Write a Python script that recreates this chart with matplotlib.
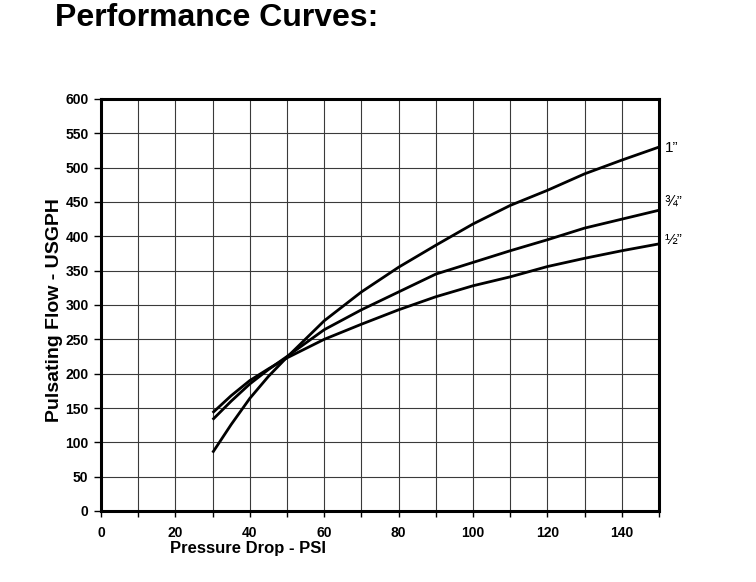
import matplotlib.pyplot as plt
import numpy as np

plt.rcParams["font.family"] = ["Liberation Sans", "DejaVu Sans"]

# ==========================================================
# Data
# ==========================================================

pressure = [30, 35, 40, 45, 50, 60, 70, 80, 90, 100, 110, 120, 130, 140, 150]

flow_1in = [85, 126, 164, 196, 224, 277, 319, 355, 387, 418, 445, 467, 491, 511, 530]
flow_3q = [133, 160, 185, 206, 225, 264, 293, 319, 345, 362, 379, 395, 412, 425, 438]
flow_half = [143, 168, 190, 207, 223, 250, 272, 293, 312, 328, 341, 356, 368, 379, 389]

curve_labels = ["1\u201d", "\u00be\u201d", "\u00bd\u201d"]
label_y = [529, 449, 395]

x_ticks = np.arange(0, 151, 10)
x_tick_labels = [str(v) if v % 20 == 0 and v < 150 else "" for v in x_ticks]
y_ticks = np.arange(0, 601, 50)


# ==========================================================
# Plot
# ==========================================================

fig = plt.figure(figsize=(7.56, 5.82), dpi=100)

ax = fig.add_axes([101 / 756, 1 - 511 / 582, 558 / 756, 412 / 582])

for flow in [flow_1in, flow_3q, flow_half]:

    ax.plot(
        pressure,
        flow,
        color="black",
        linewidth=2.0,
        solid_capstyle="butt"
    )

for label, y in zip(curve_labels, label_y):

    ax.text(
        151.5,
        y,
        label,
        fontsize=11,
        ha="left",
        va="center",
        clip_on=False
    )

ax.set_xlim(0, 150)
ax.set_ylim(0, 600)

ax.set_xticks(x_ticks)
ax.set_xticklabels(x_tick_labels, fontsize=10, fontweight="bold")
ax.set_yticks(y_ticks)
ax.set_yticklabels([str(v) for v in y_ticks], fontsize=10, fontweight="bold")

ax.tick_params(axis="x", length=4, width=1, pad=7)
ax.tick_params(axis="y", length=5, width=1, pad=4)

ax.grid(True, color="#3a3a3a", linewidth=0.8)
ax.set_axisbelow(True)

for spine in ax.spines.values():
    spine.set_linewidth(2.2)

fig.text(
    55 / 756,
    1 - 18 / 582,
    "Performance Curves:",
    fontsize=23,
    fontweight="bold",
    ha="left",
    va="center"
)

fig.text(
    248 / 756,
    1 - 549 / 582,
    "Pressure Drop - PSI",
    fontsize=12,
    fontweight="bold",
    ha="center",
    va="center"
)

fig.text(
    55 / 756,
    1 - 310 / 582,
    "Pulsating Flow - USGPH",
    fontsize=14,
    fontweight="bold",
    rotation=90,
    ha="center",
    va="center"
)

fig.savefig("out.png", dpi=100)
plt.close(fig)
